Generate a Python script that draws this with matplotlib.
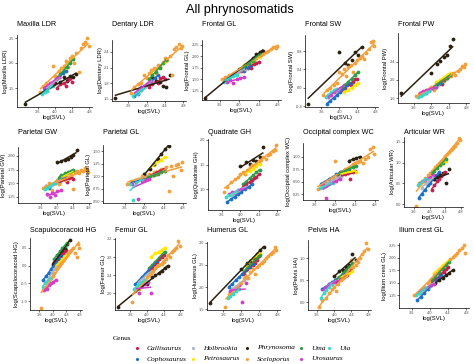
import numpy as np
import matplotlib
matplotlib.use("Agg")
import matplotlib.pyplot as plt

plt.rcParams['font.family'] = ['Liberation Sans', 'DejaVu Sans']

nan = np.nan

#%% data
genera = ["Callisaurus", "Cophosaurus", "Holbrookia", "Petrosaurus", "Phrynosoma",
          "Sceloporus", "Uma", "Urosaurus", "Uta"]

# log(SVL) of the specimens of each genus (same specimens in every panel)
svl = {
    "Callisaurus": [4.05, 4.12, 4.2, 4.25, 4.3, 4.35, 4.4],
    "Cophosaurus": [3.72, 3.8, 3.88, 3.95, 4.02, 4.1, 4.18, 4.25],
    "Holbrookia": [3.8, 3.9, 3.98, 4.05, 4.12],
    "Petrosaurus": [4.1, 4.2, 4.28, 4.35, 4.42],
    "Phrynosoma": [3.3, 4.0, 4.12, 4.2, 4.28, 4.35, 4.42, 4.5],
    "Sceloporus": [3.65, 3.72, 3.8, 3.88, 3.95, 4.0, 4.05, 4.1, 4.15, 4.2, 4.25,
                   4.3, 4.35, 4.4, 4.45, 4.5, 4.55, 4.6, 4.65, 4.7, 4.75, 4.78],
    "Uma": [4.05, 4.12, 4.2, 4.28, 4.35, 4.42],
    "Urosaurus": [3.75, 3.82, 3.88, 3.95, 4.02, 4.1],
    "Uta": [3.7, 3.76, 3.82, 3.88, 3.95],
}

maxilla_ldr = {
    "Callisaurus": [1.5, 1.58, 1.6, 1.55, 1.68, 1.7, 1.62],
    "Cophosaurus": [1.42, 1.48, 1.55, 1.6, 1.68, 1.72, 1.8, 1.85],
    "Holbrookia": [1.5, 1.55, 1.62, 1.68, 1.72],
    "Petrosaurus": [1.85, 1.9, 2.0, 2.05, 2.1],
    "Phrynosoma": [1.18, 1.6, 1.62, 1.72, 1.65, 1.75, 1.72, 1.78],
    "Sceloporus": [1.42, 1.55, 1.6, 1.58, 1.95, 1.75, 1.72, 1.85, 1.9, 1.95, 2.05,
                   1.92, 2.1, 2.15, 2.0, 2.2, 1.82, 2.3, 2.38, 2.42, 2.5, 2.35],
    "Uma": [1.7, 1.78, 1.85, 1.92, 2.0, 2.08],
    "Urosaurus": [1.5, 1.55, 1.6, 1.62, 1.68, 1.72],
    "Uta": [1.38, 1.42, 1.45, 1.52, 1.55],
}
dentary_ldr = {
    "Callisaurus": [1.72, 1.78, 1.85, 1.8, 1.9, 1.92, 1.88],
    "Cophosaurus": [1.55, 1.6, 1.68, 1.72, 1.78, 1.85, 1.9, 1.95],
    "Holbrookia": [1.62, 1.7, 1.75, 1.8, 1.85],
    "Petrosaurus": [2.0, 2.08, 2.12, 2.18, 2.22],
    "Phrynosoma": [1.52, 1.78, 1.92, 1.85, 1.82, 1.75, 1.72, 1.95],
    "Sceloporus": [1.62, 1.72, 1.78, 1.8, 1.95, 1.9, 2.0, 2.05, 2.1, 2.0, 2.15,
                   2.12, 2.2, 2.28, 2.25, 2.32, 1.95, 2.45, 2.5, 2.55, 2.48, 2.52],
    "Uma": [1.88, 1.95, 2.02, 2.1, 2.18, 2.25],
    "Urosaurus": [1.62, 1.68, 1.72, 1.75, 1.8, 1.85],
    "Uta": [1.55, 1.6, 1.62, 1.68, 1.72],
}
frontal_gl = {
    "Callisaurus": [1.68, 1.72, 1.78, 1.75, 1.82, 1.85, 1.88],
    "Cophosaurus": [1.5, 1.58, 1.62, 1.65, 1.7, 1.68, 1.75, 1.8],
    "Holbrookia": [1.55, 1.6, 1.65, 1.7, 1.72],
    "Petrosaurus": [1.8, 1.85, 1.9, 1.95, 1.98],
    "Phrynosoma": [1.1, 1.72, 1.8, 1.85, 1.95, 2.05, 2.1, 2.12],
    "Sceloporus": [1.5, 1.55, 1.6, 1.62, 1.68, 1.7, 1.72, 1.78, 1.8, 1.85, 1.88,
                   1.92, 1.95, 2.0, 2.02, 2.05, 2.08, 2.12, 2.15, 2.2, 2.18, 2.22],
    "Uma": [1.72, 1.78, 1.85, 1.9, 1.98, 2.05],
    "Urosaurus": [1.45, 1.48, 1.42, 1.5, 1.52, 1.55],
    "Uta": [1.45, 1.5, 1.55, 1.58, 1.6],
}
frontal_sw = {
    "Callisaurus": [-0.05, 0.0, 0.08, 0.05, 0.12, 0.18, 0.2],
    "Cophosaurus": [-0.35, -0.28, -0.22, -0.15, -0.1, 0.0, 0.05, 0.1],
    "Holbrookia": [-0.15, -0.1, -0.05, 0.0, 0.05],
    "Petrosaurus": [-0.1, -0.05, 0.0, 0.05, 0.1],
    "Phrynosoma": [-0.35, 0.78, 0.55, 0.5, 0.6, 0.78, 0.72, 0.88],
    "Sceloporus": [-0.15, -0.05, 0.0, 0.05, 0.1, 0.35, 0.3, 0.4, 0.25, 0.45, 0.5,
                   0.35, 0.55, 0.6, 0.65, 0.7, 0.62, 0.75, 0.85, 1.0, 1.02, 0.9],
    "Uma": [0.0, 0.05, 0.12, 0.2, 0.28, 0.35],
    "Urosaurus": [-0.2, -0.15, -0.1, -0.05, 0.0, 0.05],
    "Uta": [-0.2, -0.15, -0.1, -0.05, -0.02],
}
frontal_pw = {
    "Callisaurus": [1.85, 1.9, 1.95, 1.92, 2.0, 2.05, 2.08],
    "Cophosaurus": [1.65, 1.7, 1.72, 1.78, 1.82, 1.85, 1.9, 1.95],
    "Holbrookia": [1.7, 1.75, 1.8, 1.82, 1.88],
    "Petrosaurus": [1.95, 2.0, 2.05, 2.1, 2.15],
    "Phrynosoma": [1.72, 2.15, 2.35, 2.42, 2.5, 2.55, 2.75, 2.9],
    "Sceloporus": [1.65, 1.7, 1.72, 1.75, 1.8, 1.85, 1.78, 1.9, 1.92, 1.95, 2.0,
                   1.98, 2.05, 2.1, 2.08, 2.15, 2.12, 2.2, 2.25, 2.3, 2.28, 2.35],
    "Uma": [1.85, 1.9, 1.95, 2.0, 2.05, 2.12],
    "Urosaurus": [1.72, 1.75, 1.78, 1.8, 1.82, 1.85],
    "Uta": [1.62, 1.65, 1.68, 1.72, 1.75],
}
parietal_gw = {
    "Callisaurus": [1.5, 1.55, 1.58, 1.52, 1.6, 1.62, 1.58],
    "Cophosaurus": [1.45, 1.42, 1.48, 1.5, 1.52, 1.55, 1.6, 1.62],
    "Holbrookia": [1.45, 1.48, 1.5, 1.55, 1.58],
    "Petrosaurus": [1.62, 1.65, 1.68, 1.7, 1.72],
    "Phrynosoma": [nan, 1.88, 1.9, 1.92, 1.95, 1.98, 2.02, 2.1],
    "Sceloporus": [1.42, 1.45, 1.5, 1.38, 1.52, 1.55, 1.48, 1.58, 1.6, 1.55, 1.62,
                   1.68, 1.65, 1.4, 1.7, 1.72, 1.68, 1.75, 1.72, 1.78, 1.75, 1.7],
    "Uma": [1.6, 1.65, 1.68, 1.7, 1.72, 1.75],
    "Urosaurus": [1.3, 1.25, 1.32, 1.28, 1.35, 1.38],
    "Uta": [1.4, 1.42, 1.45, 1.48, 1.5],
}
parietal_gl = {
    "Callisaurus": [0.98, 1.02, 1.05, 1.08, 1.1, 1.12, 1.15],
    "Cophosaurus": [0.88, 0.9, 0.92, 0.95, 0.98, 1.0, 1.02, 1.05],
    "Holbrookia": [0.92, 0.95, 0.98, 1.0, 1.02],
    "Petrosaurus": [1.15, 1.22, 1.3, 1.32, 1.38],
    "Phrynosoma": [nan, 1.05, 1.15, 1.25, 1.35, 1.45, 1.55, 1.6],
    "Sceloporus": [0.85, 0.9, 0.92, 0.95, 1.0, 0.98, 0.95, 1.05, 1.02, 1.08, 1.05,
                   1.1, 1.15, 1.12, 1.18, 0.7, 1.2, 1.0, 1.22, 1.25, 1.12, 1.28],
    "Uma": [0.98, 1.0, 1.02, 1.05, 1.08, 1.1],
    "Urosaurus": [0.85, 0.88, 0.55, 0.9, 0.92, 0.95],
    "Uta": [0.85, 0.52, 0.9, 0.92, 0.95],
}
quadrate_gh = {
    "Callisaurus": [1.05, 1.1, 1.15, 1.18, 1.22, 1.25, 1.3],
    "Cophosaurus": [0.75, 0.8, 0.85, 0.9, 0.95, 1.0, 1.05, 1.1],
    "Holbrookia": [0.88, 0.92, 0.98, 1.02, 1.05],
    "Petrosaurus": [1.3, 1.38, 1.42, 1.48, 1.52],
    "Phrynosoma": [nan, 1.48, 1.55, 1.52, 1.6, 1.58, 1.65, 1.85],
    "Sceloporus": [0.95, 1.05, 1.15, 1.2, 1.25, 1.3, 1.35, 1.32, 1.4, 1.45, 1.5,
                   1.48, 1.52, 1.58, 1.6, 1.65, 1.62, 1.7, 1.72, 1.78, 1.8, 1.9],
    "Uma": [1.1, 1.15, 1.22, 1.28, 1.35, 1.4],
    "Urosaurus": [0.9, 0.95, 0.92, 0.98, 1.0, 1.02],
    "Uta": [0.85, 0.88, 0.9, 0.95, 0.98],
}
occipital_wc = {
    "Callisaurus": [0.6, 0.62, 0.65, 0.68, 0.55, 0.7, 0.72],
    "Cophosaurus": [0.45, 0.5, 0.55, 0.6, 0.65, 0.7, 0.72, 0.75],
    "Holbrookia": [0.45, 0.5, 0.55, 0.58, 0.62],
    "Petrosaurus": [0.65, 0.68, 0.7, 0.72, 0.7],
    "Phrynosoma": [nan, nan, nan, nan, 0.92, 0.95, 0.98, 1.0],
    "Sceloporus": [0.35, 0.4, 0.45, 0.5, 0.58, 0.92, 0.62, 0.68, 0.7, 0.75, 0.78,
                   0.8, 0.85, 0.88, 0.9, 0.92, 0.88, 0.95, 1.0, 1.15, 1.2, 1.05],
    "Uma": [0.65, 0.7, 0.72, 0.75, 0.8, 0.82],
    "Urosaurus": [0.45, 0.18, 0.48, 0.5, 0.52, 0.55],
    "Uta": [0.38, 0.4, 0.42, 0.45, 0.48],
}
articular_wr = {
    "Callisaurus": [0.35, 0.45, 0.55, 0.6, 0.68, 0.72, 0.78],
    "Cophosaurus": [0.15, 0.25, 0.35, 0.45, 0.52, 0.6, 0.7, 0.78],
    "Holbrookia": [0.4, 0.5, 0.55, 0.6, 0.65],
    "Petrosaurus": [0.85, 0.9, 0.95, 1.0, 1.05],
    "Phrynosoma": [nan, nan, 0.6, 0.65, 0.7, 0.75, 0.5, 0.85],
    "Sceloporus": [-0.05, 0.5, 0.55, 0.62, 0.7, 0.75, 0.8, 0.85, 0.9, 0.95, 1.0,
                   1.05, 1.1, 1.15, 1.2, 1.25, 1.3, 1.35, 1.4, 1.48, 1.6, 1.55],
    "Uma": [0.75, 0.8, 0.88, 0.95, 1.0, 1.1],
    "Urosaurus": [0.5, 0.55, 0.58, 0.62, 0.65, 0.7],
    "Uta": [0.45, 0.5, 0.55, 0.6, 0.62],
}
scapulocoracoid_hg = {
    "Callisaurus": [0.1, 0.2, 0.3, 0.25, 0.35, 0.4, 0.45],
    "Cophosaurus": [-0.4, -0.3, -0.2, -0.1, 0.0, 0.1, 0.2, 0.3],
    "Holbrookia": [-0.45, -0.35, -0.2, -0.1, 0.0],
    "Petrosaurus": [0.0, 0.1, 0.2, 0.25, 0.3],
    "Phrynosoma": [nan, 0.05, 0.2, 0.3, 0.4, 0.5, 0.62, 0.72],
    "Sceloporus": [-1.2, -0.7, -0.6, -0.5, -0.35, -0.3, -0.2, -0.1, 0.0, 0.05, 0.1,
                   0.15, 0.25, 0.3, 0.35, 0.4, 0.45, 0.5, 0.35, 0.25, 0.6, 0.5],
    "Uma": [0.2, 0.3, 0.4, 0.5, 0.55, 0.65],
    "Urosaurus": [-0.7, -0.65, -0.55, -0.5, -0.45, -0.4],
    "Uta": [-0.6, -0.5, -0.45, -0.4, -0.35],
}
femur_gl = {
    "Callisaurus": [2.45, 2.55, 2.65, 2.7, 2.75, 2.8, 2.85],
    "Cophosaurus": [2.2, 2.28, 2.35, 2.42, 2.5, 2.58, 2.65, 2.72],
    "Holbrookia": [2.25, 2.32, 2.4, 2.45, 2.5],
    "Petrosaurus": [2.8, 2.88, 2.92, 2.95, 3.0],
    "Phrynosoma": [1.7, 2.2, 2.35, 2.4, 2.45, 2.5, 2.55, 2.6],
    "Sceloporus": [1.8, 2.05, 2.1, 2.2, 2.3, 2.35, 2.4, 2.45, 2.5, 2.55, 2.6,
                   2.62, 2.65, 2.7, 2.75, 2.85, 2.8, 2.9, 2.95, 3.0, 3.15, 3.05],
    "Uma": [2.55, 2.62, 2.7, 2.78, 2.85, 2.92],
    "Urosaurus": [2.1, 2.0, 2.15, 2.2, 2.25, 2.0],
    "Uta": [2.1, 2.15, 2.2, 2.25, 2.3],
}
humerus_gl = {
    "Callisaurus": [2.3, 2.4, 2.45, 2.5, 2.55, 2.62, 2.7],
    "Cophosaurus": [2.0, 2.08, 2.15, 2.22, 2.3, 2.38, 2.45, 2.52],
    "Holbrookia": [1.95, 2.02, 2.1, 2.15, 2.2],
    "Petrosaurus": [2.5, 2.58, 2.65, 2.72, 2.78],
    "Phrynosoma": [1.63, 2.4, 2.55, 2.6, 2.65, 2.75, 2.85, 2.9],
    "Sceloporus": [1.55, 1.85, 1.9, 2.0, 2.05, 2.1, 2.2, 2.25, 2.2, 2.35, 2.4,
                   2.3, 2.45, 2.5, 2.55, 2.6, 2.65, 2.7, 2.75, 2.8, 2.9, 2.85],
    "Uma": [2.35, 2.42, 2.5, 2.58, 2.65, 2.72],
    "Urosaurus": [1.9, 1.95, 2.0, 2.05, 1.65, 2.1],
    "Uta": [1.75, 1.8, 1.85, 1.9, 1.95],
}
pelvis_ha = {
    "Callisaurus": [0.45, 0.5, 0.55, 0.6, 0.62, 0.68, 0.72],
    "Cophosaurus": [0.3, 0.35, 0.4, 0.45, 0.5, 0.55, 0.6, 0.65],
    "Holbrookia": [0.35, 0.4, 0.45, 0.5, 0.52],
    "Petrosaurus": [0.55, 0.6, 0.62, 0.65, 0.7],
    "Phrynosoma": [nan, 0.6, 0.7, 0.72, 0.8, 0.85, 1.1, 0.95],
    "Sceloporus": [-0.12, 0.05, 0.1, 0.2, 0.3, 0.35, 0.25, 0.4, 0.5, 0.55, 0.6,
                   0.65, 0.7, 0.95, 0.8, 0.85, 0.9, 1.0, 1.1, 1.15, 1.35, 1.2],
    "Uma": [0.5, 0.58, 0.65, 0.72, 0.8, 0.88],
    "Urosaurus": [0.3, 0.35, 0.4, 0.42, 0.45, 0.5],
    "Uta": [0.1, 0.2, 0.28, 0.35, 0.4],
}
ilium_crest_gl = {
    "Callisaurus": [1.5, 1.55, 1.62, 1.68, 1.72, 1.78, 1.82],
    "Cophosaurus": [1.15, 1.22, 1.3, 1.38, 1.45, 1.52, 1.58, 1.65],
    "Holbrookia": [1.3, 1.38, 1.42, 1.48, 1.52],
    "Petrosaurus": [1.7, 1.78, 1.85, 1.9, 1.95],
    "Phrynosoma": [nan, nan, 1.5, 1.55, 1.6, 1.65, 1.7, 1.75],
    "Sceloporus": [1.25, 1.3, 1.35, 1.42, 1.5, 1.55, 1.6, 1.65, 1.7, 1.75, 1.78,
                   1.82, 1.88, 1.92, 1.98, 2.02, 2.05, 2.1, 2.15, 2.2, 2.25, 2.1],
    "Uma": [1.55, 1.62, 1.7, 1.78, 1.85, 1.92],
    "Urosaurus": [1.3, 1.35, 1.38, 1.42, 1.45, 1.48],
    "Uta": [1.25, 1.3, 1.35, 1.38, 1.42],
}

panel_titles = ["Maxilla LDR", "Dentary LDR", "Frontal GL", "Frontal SW", "Frontal PW",
                "Parietal GW", "Parietal GL", "Quadrate GH", "Occipital complex WC", "Articular WR",
                "Scapulocoracoid HG", "Femur GL", "Humerus GL", "Pelvis HA", "Ilium crest GL"]
panel_data = [maxilla_ldr, dentary_ldr, frontal_gl, frontal_sw, frontal_pw,
              parietal_gw, parietal_gl, quadrate_gh, occipital_wc, articular_wr,
              scapulocoracoid_hg, femur_gl, humerus_gl, pelvis_ha, ilium_crest_gl]
y_ticks = [[1.5, 2.0, 2.5], [1.5, 1.8, 2.1, 2.4], [1.25, 1.5, 1.75, 2.0, 2.25],
           [-0.4, 0.0, 0.4, 0.8], [1.6, 2.0, 2.4],
           [1.25, 1.5, 1.75, 2.0], [0.5, 0.75, 1.0, 1.25, 1.5], [1.0, 1.5, 2.0],
           [0.25, 0.5, 0.75, 1.0], [0.0, 0.5, 1.0, 1.5],
           [-1.0, -0.5, 0.0, 0.5], [2.0, 2.4, 2.8, 3.2], [1.5, 2.0, 2.5, 3.0],
           [0.0, 0.5, 1.0], [1.25, 1.5, 1.75, 2.0, 2.25]]
x_ticks = [3.6, 4.0, 4.4, 4.8]

#%% layout (pixels: left, top, right, bottom) and axis limits
boxes = [(17, 35, 92, 107), (112, 40, 186, 101), (202, 40, 281, 100), (305, 35, 378, 107), (398, 33, 469, 103),
         (18, 147, 91, 203), (103, 145, 186, 203), (208, 139, 280, 210), (303, 143, 378, 200), (404, 137, 463, 207),
         (30, 238, 82, 310), (115, 238, 183, 310), (207, 242, 280, 310), (308, 240, 371, 310), (399, 243, 469, 308)]
x_lo = [3.12, 3.24, 3.24, 3.24, 3.24,
        3.03, 3.15, 3.30, 3.36, 3.34,
        3.33, 3.24, 3.24, 3.39, 3.32]
y_lims = [(1.12, 2.56), (1.46, 2.63), (1.05, 2.35), (-0.42, 1.15), (1.49, 3.04),
          (1.14, 2.16), (0.47, 1.62), (0.58, 2.02), (0.13, 1.28), (-0.07, 1.62),
          (-1.25, 0.78), (1.63, 3.22), (1.48, 3.02), (-0.18, 1.41), (1.0, 2.29)]
title_rows_y = [24, 24, 24, 24, 24, 132, 132, 132, 132, 132, 230, 230, 230, 230, 230]

colors = {
    "Callisaurus": "#C71E4F",
    "Cophosaurus": "#1F6FC5",
    "Holbrookia": "#A9B8C8",
    "Petrosaurus": "#FFE600",
    "Phrynosoma": "#2B2110",
    "Sceloporus": "#F4A03A",
    "Uma": "#2E9B48",
    "Urosaurus": "#D63CCB",
    "Uta": "#3DD6C6",
}

W, H = 474, 364
fig = plt.figure(figsize=(W / 100, H / 100), dpi=100)

fig.text(240 / W, 1 - 10 / H, "All phrynosomatids", ha="center", va="center", fontsize=9.2)

for i, (title, data) in enumerate(zip(panel_titles, panel_data)):
    l, t, r, b = boxes[i]
    ax = fig.add_axes([l / W, 1 - b / H, (r - l) / W, (b - t) / H])

    for g in genera:
        ax.scatter(svl[g], data[g], s=7.5, color=colors[g], linewidths=0, zorder=2)
    for g in genera:
        x = np.array(svl[g])
        y = np.array(data[g], dtype=float)
        ok = ~np.isnan(y)
        if ok.sum() < 2:
            continue
        k, c = np.polyfit(x[ok], y[ok], 1)
        xs = np.array([x[ok].min(), x[ok].max()])
        ax.plot(xs, k * xs + c, color=colors[g], lw=1.1, zorder=3, solid_capstyle="butt")

    ax.set_xlim(x_lo[i], 4.86)
    ax.set_ylim(*y_lims[i])
    ax.set_xticks(x_ticks)
    ax.set_xticklabels([f"{v:.1f}" for v in x_ticks])
    ax.set_yticks(y_ticks[i])
    dec = 2 if any(abs(v * 10 - round(v * 10)) > 1e-6 for v in y_ticks[i]) else 1
    ax.set_yticklabels([f"{v:.{dec}f}" for v in y_ticks[i]])
    for s in ["top", "right"]:
        ax.spines[s].set_visible(False)
    for s in ["left", "bottom"]:
        ax.spines[s].set_linewidth(0.5)
    ax.tick_params(length=1.2, width=0.4, labelsize=2.8, pad=0.8, labelcolor="#4D4D4D")
    ax.set_xlabel("log(SVL)", fontsize=4.2, labelpad=1)
    ax.set_ylabel(f"log({title})", fontsize=4.2, labelpad=0.8)

    fig.text(l / W, 1 - title_rows_y[i] / H, title, ha="left", va="center", fontsize=5.2)

#%% legend
fig.text(113 / W, 1 - 338 / H, "Genus", ha="left", va="center", fontsize=5.2,
         family="Liberation Serif")
leg_ax = fig.add_axes([0, 0, 1, 1])
leg_ax.set_xlim(0, W)
leg_ax.set_ylim(H, 0)
leg_ax.axis("off")
leg_cols = [137, 193, 247, 301, 329]
leg_rows = [348, 359]
for j, g in enumerate(genera):
    cx = leg_cols[j // 2]
    cy = leg_rows[j % 2]
    leg_ax.scatter([cx], [cy], s=5, color=colors[g], linewidths=0)
    leg_ax.text(cx + 10, cy, g, ha="left", va="center", fontsize=5.4,
                family="Liberation Serif", style="italic")

fig.savefig("out.png", dpi=100)
